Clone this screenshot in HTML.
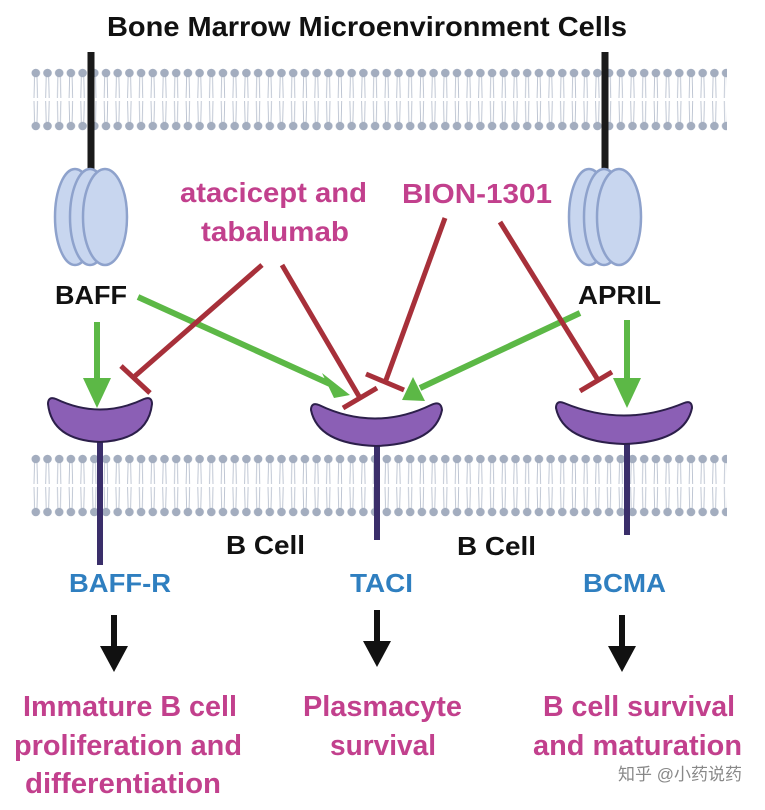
<!DOCTYPE html>
<html><head><meta charset="utf-8"><style>
body{margin:0;background:#fff}
text{font-family:"Liberation Sans","Noto Sans CJK SC",sans-serif;font-weight:bold}
</style></head><body>
<svg width="765" height="805" viewBox="0 0 765 805" xmlns="http://www.w3.org/2000/svg">
<defs>
<pattern id="mem1" x="30" y="67" width="11.7" height="66" patternUnits="userSpaceOnUse">
<circle cx="5.8" cy="6" r="4.3" fill="#a3adbf"/>
<path d="M4.5 10 L4 31 M7 10 L7.5 31 M4 34 L4.5 55 M7.5 34 L7 55" stroke="#b9c1cf" stroke-width="0.9" fill="none"/>
<circle cx="5.8" cy="59" r="4.3" fill="#a3adbf"/>
</pattern>
<pattern id="mem2" x="30" y="453" width="11.7" height="66" patternUnits="userSpaceOnUse">
<circle cx="5.8" cy="6" r="4.3" fill="#a3adbf"/>
<path d="M4.5 10 L4 31 M7 10 L7.5 31 M4 34 L4.5 55 M7.5 34 L7 55" stroke="#b9c1cf" stroke-width="0.9" fill="none"/>
<circle cx="5.8" cy="59" r="4.3" fill="#a3adbf"/>
</pattern>
</defs>
<text x="107" y="36" font-size="28" textLength="520" lengthAdjust="spacingAndGlyphs" fill="#111">Bone Marrow Microenvironment Cells</text>
<rect x="30" y="67" width="697" height="66" fill="url(#mem1)"/>
<rect x="30" y="453" width="697" height="66" fill="url(#mem2)"/>
<line x1="91" y1="52" x2="91" y2="170" stroke="#1a1a1a" stroke-width="7"/>
<line x1="605" y1="52" x2="605" y2="170" stroke="#1a1a1a" stroke-width="7"/>
<g fill="#c8d6ef" stroke="#8ea2cc" stroke-width="2.5">
<ellipse cx="75" cy="217" rx="20" ry="48"/><ellipse cx="90" cy="217" rx="20" ry="48"/><ellipse cx="105" cy="217" rx="22" ry="48"/>
<ellipse cx="589" cy="217" rx="20" ry="48"/><ellipse cx="604" cy="217" rx="20" ry="48"/><ellipse cx="619" cy="217" rx="22" ry="48"/>
</g>
<text x="55" y="304" font-size="26" textLength="72" lengthAdjust="spacingAndGlyphs" fill="#111">BAFF</text>
<text x="578" y="304" font-size="26" textLength="83" lengthAdjust="spacingAndGlyphs" fill="#111">APRIL</text>
<g font-size="28" fill="#c2408d">
<text x="180" y="202" textLength="187" lengthAdjust="spacingAndGlyphs">atacicept and</text>
<text x="201" y="241" textLength="148" lengthAdjust="spacingAndGlyphs">tabalumab</text>
<text x="402" y="203" textLength="150" lengthAdjust="spacingAndGlyphs">BION-1301</text>
</g>
<g fill="#8b5fb5" stroke="#2c1f4a" stroke-width="2">
<line x1="100" y1="420" x2="100" y2="565" stroke="#3a2e6a" stroke-width="6"/>
<line x1="377" y1="420" x2="377" y2="540" stroke="#3a2e6a" stroke-width="6"/>
<line x1="627" y1="420" x2="627" y2="535" stroke="#3a2e6a" stroke-width="6"/>
<path d="M48 404 Q48 396 56 399 Q100 420 144 399 Q152 396 152 404 Q148 440 100 442 Q52 440 48 404Z"/>
<path d="M311 410 Q311 402 319 405 Q375 432 431 405 Q441 400 442 410 Q435 444 376 446 Q318 444 311 410Z"/>
<path d="M556 408 Q556 400 564 403 Q624 428 684 403 Q692 400 692 408 Q685 442 624 444 Q563 442 556 408Z"/>
</g>
<g stroke="#5cb846" stroke-width="6" fill="#5cb846">
<line x1="97" y1="322" x2="97" y2="382"/><polygon points="83,378 111,378 97,408" stroke="none"/>
<line x1="627" y1="320" x2="627" y2="382"/><polygon points="613,378 641,378 627,408" stroke="none"/>
<line x1="138" y1="297" x2="330" y2="384"/><polygon points="322,373 334,398 350,395" stroke="none"/>
<line x1="580" y1="313" x2="420" y2="388"/><polygon points="413,377 425,401 402,400" stroke="none"/>
</g>
<g stroke="#a7303a" stroke-width="5">
<line x1="262" y1="265" x2="135" y2="376"/><line x1="121" y1="366" x2="150" y2="393"/>
<line x1="282" y1="265" x2="360" y2="398"/><line x1="343" y1="408" x2="377" y2="388"/>
<line x1="445" y1="218" x2="386" y2="380"/><line x1="366" y1="374" x2="404" y2="390"/>
<line x1="500" y1="222" x2="598" y2="380"/><line x1="580" y1="391" x2="612" y2="372"/>
</g>
<g font-size="26" fill="#111">
<text x="226" y="554" textLength="79" lengthAdjust="spacingAndGlyphs">B Cell</text>
<text x="457" y="555" textLength="79" lengthAdjust="spacingAndGlyphs">B Cell</text>
</g>
<g font-size="26" fill="#2f7fc0">
<text x="69" y="592" textLength="102" lengthAdjust="spacingAndGlyphs">BAFF-R</text>
<text x="350" y="592" textLength="63" lengthAdjust="spacingAndGlyphs">TACI</text>
<text x="583" y="592" textLength="83" lengthAdjust="spacingAndGlyphs">BCMA</text>
</g>
<g fill="#111" stroke="#111" stroke-width="6">
<line x1="114" y1="615" x2="114" y2="650"/><polygon points="100,646 128,646 114,672" stroke="none"/>
<line x1="377" y1="610" x2="377" y2="645"/><polygon points="363,641 391,641 377,667" stroke="none"/>
<line x1="622" y1="615" x2="622" y2="650"/><polygon points="608,646 636,646 622,672" stroke="none"/>
</g>
<g font-size="29" fill="#c2408d">
<text x="23" y="716" textLength="214" lengthAdjust="spacingAndGlyphs">Immature B cell</text>
<text x="14" y="755" textLength="228" lengthAdjust="spacingAndGlyphs">proliferation and</text>
<text x="25" y="793" textLength="196" lengthAdjust="spacingAndGlyphs">differentiation</text>
<text x="303" y="716" textLength="159" lengthAdjust="spacingAndGlyphs">Plasmacyte</text>
<text x="330" y="755" textLength="106" lengthAdjust="spacingAndGlyphs">survival</text>
<text x="543" y="716" textLength="192" lengthAdjust="spacingAndGlyphs">B cell survival</text>
<text x="533" y="755" textLength="209" lengthAdjust="spacingAndGlyphs">and maturation</text>
</g>
<text x="680" y="780" font-size="17" text-anchor="middle" fill="#888" style="font-weight:normal">知乎 @小药说药</text>
</svg>
</body></html>
